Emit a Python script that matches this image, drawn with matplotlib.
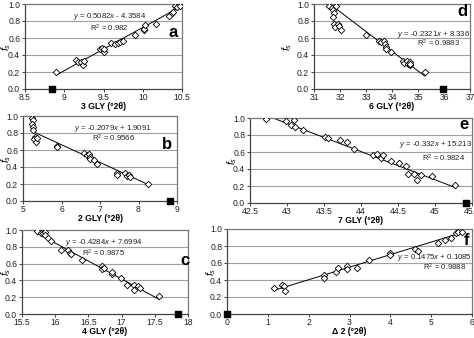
import numpy as np
import matplotlib
matplotlib.use("Agg")
import matplotlib.pyplot as plt

plt.rcParams['font.family'] = ['Liberation Sans', 'DejaVu Sans']
plt.rcParams['mathtext.fontset'] = 'custom'
plt.rcParams['mathtext.rm'] = 'Liberation Sans'
plt.rcParams['mathtext.it'] = 'Liberation Sans:italic'

# panel a : 3 GLY
a_x = [8.90, 9.15, 9.18, 9.21, 9.24, 9.25, 9.46, 9.48, 9.50, 9.51, 9.60, 9.65, 9.68, 9.71,
       9.75, 9.90, 10.01, 10.02, 10.03, 10.17, 10.33, 10.37, 10.39, 10.41, 10.44, 10.48]
a_y = [0.20, 0.34, 0.32, 0.32, 0.28, 0.33, 0.47, 0.48, 0.43, 0.47, 0.54, 0.53, 0.54, 0.55,
       0.57, 0.64, 0.70, 0.71, 0.75, 0.76, 0.86, 0.89, 0.91, 0.98, 0.96, 0.98]
a_fit = (0.5082, -4.3584)

# panel d : 6 GLY
d_x = [31.56, 31.69, 31.85, 31.72, 31.76, 31.73, 31.76, 31.82, 31.92, 31.95, 32.04,
       33.01, 33.49, 33.58, 33.68, 33.74, 33.78, 33.78, 33.96, 34.41, 34.45, 34.58, 34.62,
       34.70, 34.70, 34.68, 35.26]
d_y = [0.98, 0.95, 0.98, 0.93, 0.89, 0.85, 0.76, 0.73, 0.76, 0.74, 0.70,
       0.64, 0.57, 0.55, 0.56, 0.53, 0.49, 0.47, 0.44, 0.33, 0.31, 0.33, 0.30,
       0.32, 0.28, 0.30, 0.20]
d_fit = (-0.2321, 8.336)

# panel b : 2 GLY
b_x = [5.23, 5.25, 5.23, 5.25, 5.25, 5.31, 5.29, 5.34, 5.36, 5.89, 5.89, 6.58, 6.65,
       6.71, 6.74, 6.74, 6.84, 6.93, 7.43, 7.43, 7.65, 7.69, 7.76, 7.78, 8.25]
b_y = [0.98, 0.95, 0.91, 0.87, 0.84, 0.75, 0.73, 0.70, 0.74, 0.65, 0.63, 0.56, 0.54,
       0.55, 0.52, 0.49, 0.48, 0.44, 0.33, 0.31, 0.33, 0.30, 0.31, 0.28, 0.20]
b_fit = (-0.2079, 1.9091)

# panel e : 7 GLY
e_x = [42.72, 42.98, 43.10, 43.06, 43.11, 43.21, 43.51, 43.55, 43.71, 43.81, 43.91,
       44.16, 44.21, 44.27, 44.30, 44.41, 44.51, 44.61, 44.63, 44.71, 44.76, 44.81,
       44.96, 45.27]
e_y = [0.99, 0.97, 0.98, 0.92, 0.89, 0.86, 0.78, 0.76, 0.74, 0.72, 0.64,
       0.56, 0.58, 0.53, 0.56, 0.49, 0.47, 0.44, 0.34, 0.34, 0.27, 0.33,
       0.32, 0.21]
e_fit = (-0.332, 15.213)

# panel c : 4 GLY
c_x = [15.72, 15.78, 15.81, 15.84, 15.84, 15.89, 15.94, 16.09, 16.19, 16.23, 16.24,
       16.41, 16.70, 16.71, 16.74, 16.85, 16.85, 16.99, 17.08, 17.19, 17.19, 17.24,
       17.28, 17.57]
c_y = [0.99, 0.97, 0.96, 0.98, 0.94, 0.90, 0.87, 0.76, 0.76, 0.73, 0.72,
       0.64, 0.57, 0.54, 0.55, 0.48, 0.50, 0.43, 0.35, 0.34, 0.28, 0.33,
       0.31, 0.21]
c_fit = (-0.4284, 7.6994)

# panel f : delta 2
f_x = [1.16, 1.34, 1.40, 1.42, 2.37, 2.37, 2.67, 2.73, 2.94, 2.94, 3.19, 3.47,
       3.98, 3.98, 4.60, 4.67, 5.16, 5.35, 5.48, 5.60, 5.66, 5.75]
f_y = [0.31, 0.34, 0.33, 0.27, 0.46, 0.42, 0.49, 0.54, 0.56, 0.53, 0.54, 0.63,
       0.72, 0.70, 0.76, 0.74, 0.84, 0.87, 0.90, 0.95, 0.96, 0.97]
f_fit = (0.1475, 0.1085)

panels = [
    # letter, x, y, fit, square x, xlim, xticks, xlabel, eq, r2,
    # box (px), eq pos, r2 pos, eq align, letter pos, ylabel x (px)
    ('a', a_x, a_y, a_fit, 8.85, (8.5, 10.5), [8.5, 9, 9.5, 10, 10.5], '3 GLY (°2θ)',
     r'$y$ = 0.5082$x$ - 4.3584', 'R$^2$ = 0.982',
     (25, 4, 182, 89), (0.54, 0.85), (0.54, 0.71), 'center', (0.975, 0.67), 6.5),
    ('d', d_x, d_y, d_fit, 35.95, (31, 37), [31, 32, 33, 34, 35, 36, 37], '6 GLY (°2θ)',
     r'$y$ = -0.2321$x$ + 8.336', 'R$^2$ = 0.9883',
     (314, 4, 470, 89), (1.0, 0.645), (0.80, 0.535), 'right', (0.985, 0.91), 287),
    ('b', b_x, b_y, b_fit, 8.82, (5, 9), [5, 6, 7, 8, 9], '2 GLY (°2θ)',
     r'$y$ = -0.2079$x$ + 1.9091', 'R$^2$ = 0.9566',
     (23, 116, 177, 201), (0.585, 0.855), (0.585, 0.74), 'center', (0.97, 0.66), 6.5),
    ('e', e_x, e_y, e_fit, 45.42, (42.5, 45.5), [42.5, 43, 43.5, 44, 44.5, 45, 45.5], '7 GLY (°2θ)',
     r'$y$ = -0.332$x$ + 15.213', 'R$^2$ = 0.9824',
     (250, 118, 472, 203), (1.0, 0.69), (0.87, 0.52), 'right', (0.985, 0.92), 232),
    ('c', c_x, c_y, c_fit, 17.85, (15.5, 18), [15.5, 16, 16.5, 17, 17.5, 18], '4 GLY (°2θ)',
     r'$y$ = -0.4284$x$ + 7.6994', 'R$^2$ = 0.9875',
     (22, 230, 188, 314), (0.49, 0.85), (0.49, 0.72), 'center', (1.01, 0.64), 6.5),
    ('f', f_x, f_y, f_fit, 0.0, (0, 6), [0, 1, 2, 3, 4, 5, 6], 'Δ 2 (°2θ)',
     r'$y$ = 0.1475$x$ + 0.1085', 'R$^2$ = 0.9888',
     (227, 229, 472, 314), (1.0, 0.67), (0.89, 0.55), 'right', (0.99, 0.86), 211),
]

W, H = 474, 338
fig = plt.figure(figsize=(W / 100, H / 100), dpi=100)

for (let, xs, ys, fit, sq, xlim, xt, xlab, eq, r2, box, eqp, r2p, eqha, letp, ylx) in panels:
    x0, y0, x1, y1 = box
    ax = fig.add_axes([x0 / W, (H - y1) / H, (x1 - x0) / W, (y1 - y0) / H])
    ax.set_xlim(*xlim)
    ax.set_ylim(0, 1.0)
    ax.set_xticks(xt)
    ax.set_xticklabels([('%g' % t) for t in xt])
    ax.set_yticks([0, 0.2, 0.4, 0.6, 0.8, 1.0])
    ax.set_yticklabels(['0.0', '0.2', '0.4', '0.6', '0.8', '1.0'])
    ax.tick_params(labelsize=6.2, length=2, width=0.6, pad=1.5, colors='#222')
    ax.tick_params(axis='x', pad=0.8)
    for t in [0.2, 0.4, 0.6, 0.8]:
        ax.axhline(t, color='#a0a0a0', lw=0.8, zorder=0)
    for s in ax.spines.values():
        s.set_color('#777777')
        s.set_linewidth(0.9)
    ax.spines['left'].set_color('#444444')
    ax.spines['bottom'].set_color('#444444')

    xx = np.array([min(xs), max(xs)])
    ax.plot(xx, fit[0] * xx + fit[1], color='black', lw=0.7, zorder=2)
    ax.scatter(xs, ys, marker='D', s=11, facecolor='white', edgecolor='black',
               linewidths=0.6, zorder=3)
    ax.scatter([sq], [0], marker='s', s=14, color='black', zorder=4, clip_on=False)

    ax.text(eqp[0], eqp[1], eq, transform=ax.transAxes, ha=eqha, va='center',
            fontsize=5.6, color='#222')
    ax.text(r2p[0], r2p[1], r2, transform=ax.transAxes, ha='center', va='center',
            fontsize=5.6, color='#222')
    ax.text(letp[0], letp[1], let, transform=ax.transAxes, ha='right', va='center',
            fontsize=12, fontweight='bold')

    ax.set_xlabel(xlab, fontsize=6.2, fontweight='bold', labelpad=0)
    # y label placed by pixel position, as in the reference
    fig.text(ylx / W, (H - (y0 + y1) / 2) / H, r'$f_s$', rotation=90,
             ha='center', va='center', fontsize=7.5)

fig.savefig('out.png', dpi=100)
